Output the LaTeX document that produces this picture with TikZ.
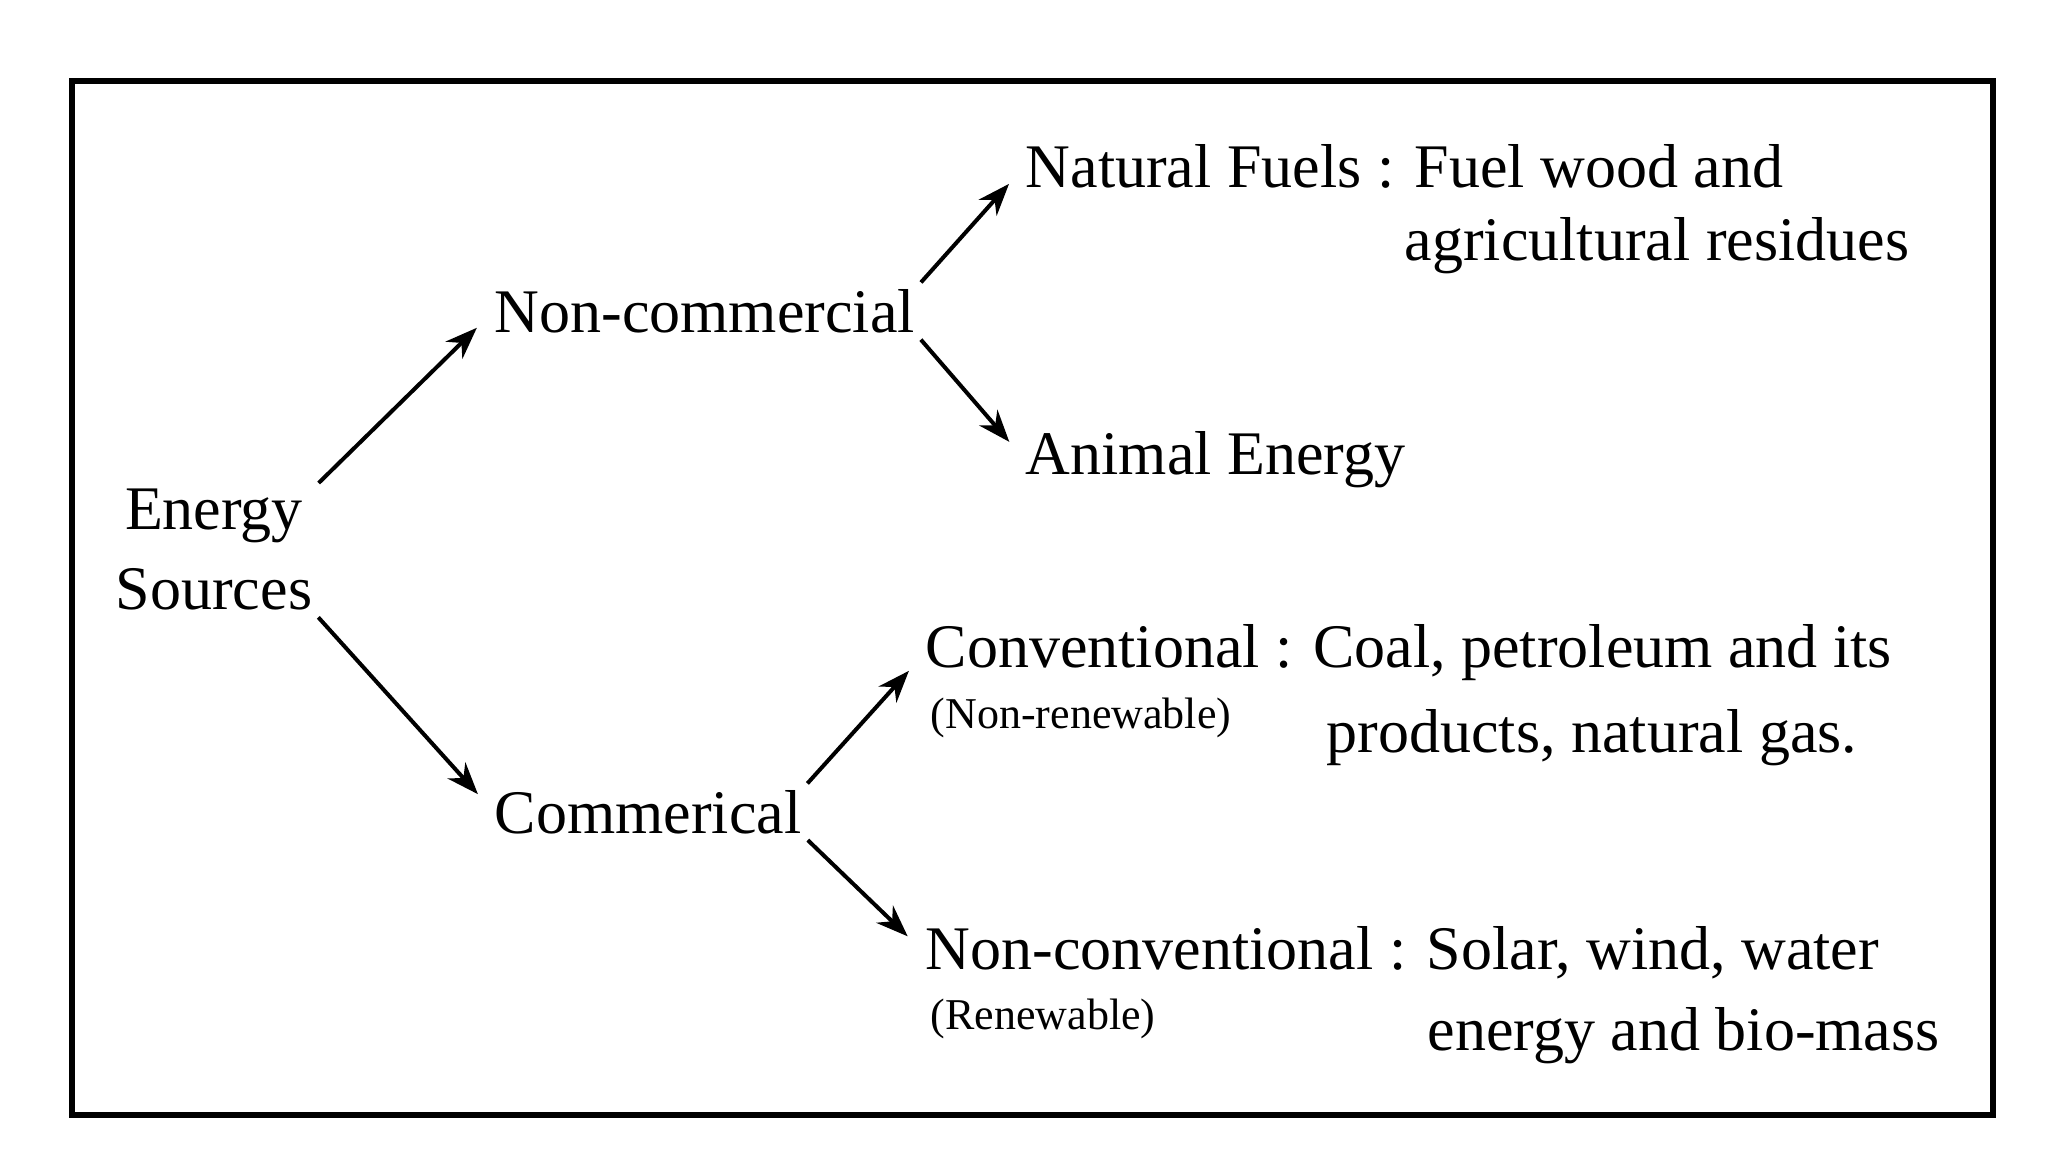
\documentclass[tikz,border=0pt]{standalone}
\usepackage{fontspec}
\setmainfont{Liberation Serif}
\usetikzlibrary{arrows.meta}

\tikzset{
  txt/.style={anchor=west,inner sep=0pt,font=\fontsize{15.5}{18}\selectfont},
  subtxt/.style={anchor=west,inner sep=0pt,font=\fontsize{11}{13}\selectfont},
  arr/.style={line width=1pt,-{Stealth[length=8pt,width=6pt]},shorten <=2pt,shorten >=6pt}
}

\begin{document}
\begin{tikzpicture}[x=0.25pt,y=0.25pt,yscale=-1,xscale=1]
\useasboundingbox (0,0) rectangle (2048,1152);

%Shape: Rectangle
\draw [line width=1.4pt] (72,81) rectangle (1993,1115) ;

% Text Node
\node (src) [anchor=center,inner sep=0pt,align=center,font=\fontsize{15.5}{20}\selectfont] at (214,550) {Energy\\Sources};
% Text Node
\node (noncom) [txt] at (494,311) {Non-commercial};
% Text Node
\node (com) [txt] at (494,812) {Commerical};
% Text Node
\node (fuel) [txt] at (1025,166) {Natural Fuels : Fuel wood and};
% Text Node
\node (fuelb) [txt] at (1404,246) {agricultural residues};
% Text Node
\node (anim) [txt] at (1025,460) {Animal Energy};
% Text Node
\node (conv) [txt] at (925,653) {Conventional : Coal, petroleum and its};
% Text Node
\node (convsub) [subtxt] at (930,718) {(Non-renewable)};
% Text Node
\node (convb) [txt] at (1326,738) {products, natural gas.};
% Text Node
\node (nconv) [txt] at (925,953) {Non-conventional : Solar, wind, water};
% Text Node
\node (nconvsub) [subtxt] at (930,1019) {(Renewable)};
% Text Node
\node (nconvb) [txt] at (1427,1036) {energy and bio-mass};

%Straight Lines
\draw [arr] (src.north east) -- (noncom.west) ;
\draw [arr] (src.south east) -- (com.west) ;
\draw [arr] (noncom.north east) -- (fuel.west) ;
\draw [arr] (noncom.south east) -- (anim.west) ;
\draw [arr] (com.north east) -- (conv.west) ;
\draw [arr] (com.south east) -- (nconv.west) ;

\end{tikzpicture}
\end{document}
